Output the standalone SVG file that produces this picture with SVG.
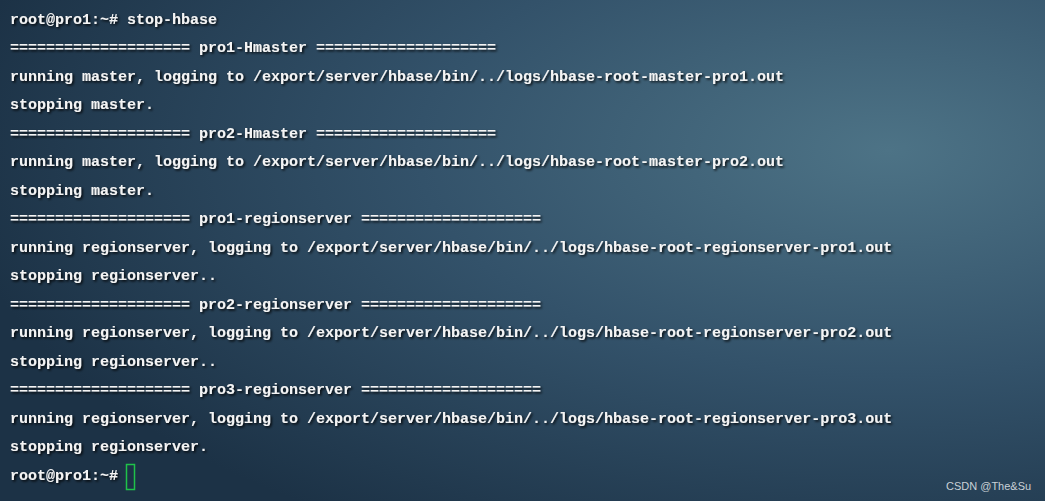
<svg xmlns="http://www.w3.org/2000/svg" width="1045" height="501" viewBox="0 0 1045 501">
<defs>
<radialGradient id="bg" cx="0.85" cy="0.3" r="0.9">
<stop offset="0" stop-color="#4d7386"/>
<stop offset="0.5" stop-color="#33526a"/>
<stop offset="1" stop-color="#1c3246"/>
</radialGradient>
<filter id="sh" x="-5%" y="-50%" width="110%" height="200%">
<feDropShadow dx="1.5" dy="1.5" stdDeviation="0.8" flood-color="#000" flood-opacity="0.9"/>
</filter>
<style>
.t{font-family:"Liberation Mono","DejaVu Sans Mono",monospace;font-size:15px;font-weight:bold;fill:#f4f4f4;white-space:pre}
.w{font-family:"Liberation Sans",Arial,sans-serif;font-size:11px;fill:#c8d0d6}
</style>
</defs>
<rect width="1045" height="501" fill="url(#bg)"/>
<g filter="url(#sh)" class="t" xml:space="preserve">
<text x="10" y="24">root@pro1:~# stop-hbase</text>
<text x="10" y="52">==================== pro1-Hmaster ====================</text>
<text x="10" y="81">running master, logging to /export/server/hbase/bin/../logs/hbase-root-master-pro1.out</text>
<text x="10" y="109">stopping master.</text>
<text x="10" y="138">==================== pro2-Hmaster ====================</text>
<text x="10" y="166">running master, logging to /export/server/hbase/bin/../logs/hbase-root-master-pro2.out</text>
<text x="10" y="195">stopping master.</text>
<text x="10" y="223">==================== pro1-regionserver ====================</text>
<text x="10" y="252">running regionserver, logging to /export/server/hbase/bin/../logs/hbase-root-regionserver-pro1.out</text>
<text x="10" y="280">stopping regionserver..</text>
<text x="10" y="309">==================== pro2-regionserver ====================</text>
<text x="10" y="337">running regionserver, logging to /export/server/hbase/bin/../logs/hbase-root-regionserver-pro2.out</text>
<text x="10" y="366">stopping regionserver..</text>
<text x="10" y="394">==================== pro3-regionserver ====================</text>
<text x="10" y="423">running regionserver, logging to /export/server/hbase/bin/../logs/hbase-root-regionserver-pro3.out</text>
<text x="10" y="451">stopping regionserver.</text>
<text x="10" y="480">root@pro1:~# </text>
</g>
<rect x="126.5" y="464.5" width="8" height="25" fill="none" stroke="#1fc24a" stroke-width="1.5"/>
<text class="w" x="946" y="490">CSDN @The&amp;Su</text>
</svg>
